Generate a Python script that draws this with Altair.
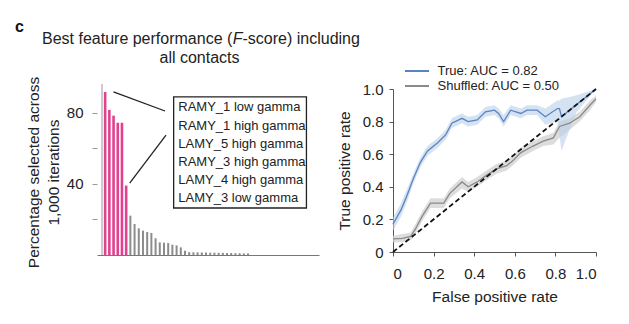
import altair as alt
import pandas as pd

# ---------------- data ----------------
# left panel: percentage selected across 1,000 iterations (sorted features)
top_vals = [91.6, 81.5, 78.3, 74.3, 74.3, 39.0]
rest_vals = [22.1, 17.4, 15.0, 13.7, 12.9, 12.4, 9.4, 7.1, 6.9, 6.7, 5.8, 5.4, 4.3, 2.4,
             1.6, 1.5, 1.5, 1.4, 1.4, 1.3, 1.3, 1.2, 1.2, 1.1, 1.1, 1.0, 1.0, 0.9, 0.9]
box_labels = ["RAMY_1 low gamma", "RAMY_1 high gamma", "LAMY_5 high gamma",
              "RAMY_3 high gamma", "LAMY_4 high gamma", "LAMY_3 low gamma"]
box_label_y = [83.0, 72.6, 62.3, 52.0, 42.1, 32.0]
box_x = [17.3, 48.9]
box_y = [26.4, 88.8]
conn_x = [2.98, 6.84]
conn_y = [91.6, 40.4]
conn_x2 = [15.25, 15.48]
conn_y2 = [80.9, 67.4]

# right panel: ROC curves
fpr_true = [0.0, 0.04, 0.07, 0.10, 0.135, 0.17, 0.22, 0.26, 0.29, 0.34, 0.37, 0.415, 0.455,
            0.50, 0.52, 0.545, 0.58, 0.63, 0.66, 0.71, 0.75, 0.81, 0.82, 0.83, 0.90, 1.0]
tpr_true = [0.17, 0.26, 0.35, 0.45, 0.55, 0.62, 0.67, 0.72, 0.79, 0.82, 0.80, 0.81, 0.86,
            0.87, 0.85, 0.80, 0.87, 0.85, 0.87, 0.87, 0.83, 0.88, 0.88, 0.83, 0.90, 1.0]
tpr_true_lo = [0.13, 0.22, 0.31, 0.42, 0.52, 0.59, 0.64, 0.69, 0.76, 0.79, 0.77, 0.78, 0.83,
               0.84, 0.82, 0.77, 0.84, 0.82, 0.84, 0.84, 0.78, 0.80, 0.72, 0.62, 0.85, 1.0]
tpr_true_hi = [0.21, 0.30, 0.39, 0.48, 0.58, 0.65, 0.70, 0.75, 0.82, 0.85, 0.83, 0.84, 0.89,
               0.90, 0.88, 0.84, 0.90, 0.88, 0.90, 0.90, 0.88, 0.93, 0.93, 0.94, 0.96, 1.0]

fpr_shuf = [0.0, 0.046, 0.087, 0.11, 0.144, 0.185, 0.25, 0.28, 0.34, 0.37, 0.415, 0.46,
            0.51, 0.56, 0.59, 0.63, 0.69, 0.74, 0.79, 0.82, 0.87, 0.92, 0.97, 1.0]
tpr_shuf = [0.08, 0.084, 0.096, 0.14, 0.22, 0.30, 0.30, 0.36, 0.43, 0.40, 0.43, 0.47,
            0.51, 0.53, 0.56, 0.61, 0.65, 0.68, 0.70, 0.77, 0.79, 0.83, 0.90, 0.94]
tpr_shuf_lo = [0.06, 0.06, 0.07, 0.11, 0.19, 0.27, 0.27, 0.33, 0.39, 0.37, 0.40, 0.44,
               0.48, 0.50, 0.53, 0.58, 0.62, 0.65, 0.66, 0.70, 0.75, 0.80, 0.87, 0.92]
tpr_shuf_hi = [0.10, 0.11, 0.12, 0.17, 0.25, 0.33, 0.33, 0.39, 0.46, 0.43, 0.46, 0.50,
               0.54, 0.56, 0.59, 0.64, 0.68, 0.71, 0.73, 0.80, 0.82, 0.86, 0.93, 0.96]

diag_x = [0.0, 1.0]
diag_y = [0.0, 1.0]
roc_ticks = [0, 0.2, 0.4, 0.6, 0.8, 1.0]
series_names = ["True: AUC = 0.82", "Shuffled: AUC = 0.50"]

PINK = "#e0428f"
GRAYBAR = "#8c8c8c"
BLUE = "#5a84bf"
BLUEBAND = "#b8cfea"
GRAYLINE = "#8a8a8a"
GRAYBAND = "#d2d2d2"
FONT = "Liberation Sans"

# ---------------- left panel ----------------
top_df = pd.DataFrame({"i": list(range(1, len(top_vals) + 1)), "v": top_vals})
rest_df = pd.DataFrame({"i": list(range(len(top_vals) + 1, len(top_vals) + len(rest_vals) + 1)),
                        "v": rest_vals})

xs = alt.Scale(domain=[0.25, 50.7], nice=False, zero=False)
ys = alt.Scale(domain=[0, 93.26], nice=False)

x_axis = alt.Axis(ticks=False, labels=False, title=None, grid=False,
                  domainColor="#777", domainWidth=1.2)
y_axis = alt.Axis(values=[20, 40, 60, 80], domain=False, grid=False, labelOverlap=False,
                  labelExpr="(datum.value == 40 || datum.value == 80) ? datum.label : ''",
                  tickColor="#999", tickSize=5, labelPadding=9, labelFontSize=15,
                  labelColor="#222", title=["Percentage selected across", "1,000 iterations"],
                  titleFontSize=15.5, titleFontWeight="normal", titleColor="#222",
                  titleLineHeight=20, titlePadding=5)

bars_top = alt.Chart(top_df).mark_bar(size=2.6, color=PINK).encode(
    x=alt.X("i:Q", scale=xs, axis=x_axis), y=alt.Y("v:Q", scale=ys, axis=y_axis))
bars_rest = alt.Chart(rest_df).mark_bar(size=2.0, color=GRAYBAR).encode(
    x=alt.X("i:Q", scale=xs, axis=x_axis), y=alt.Y("v:Q", scale=ys, axis=y_axis))

yline = alt.Chart(pd.DataFrame({"x": [0.25], "y0": [0.0], "y1": [96.0]})).mark_rule(
    color="#999", strokeWidth=1).encode(x=alt.X("x:Q", scale=xs, axis=x_axis),
                                        y=alt.Y("y0:Q", scale=ys, axis=y_axis), y2="y1:Q")

box = alt.Chart(pd.DataFrame({"x0": [box_x[0]], "x1": [box_x[1]], "y0": [box_y[0]], "y1": [box_y[1]]})).mark_rect(
    fillOpacity=0, stroke="#222", strokeWidth=1.3).encode(
    x=alt.X("x0:Q", scale=xs, axis=x_axis), x2="x1:Q", y=alt.Y("y0:Q", scale=ys, axis=y_axis), y2="y1:Q")

box_text = alt.Chart(pd.DataFrame({"t": box_labels, "y": box_label_y, "x": [18.4] * 6})).mark_text(
    align="left", baseline="middle", fontSize=13, font=FONT, color="#222").encode(
    x=alt.X("x:Q", scale=xs, axis=x_axis), y=alt.Y("y:Q", scale=ys, axis=y_axis), text="t:N")

conn = alt.Chart(pd.DataFrame({"x": conn_x, "y": conn_y, "x2": conn_x2, "y2": conn_y2})).mark_rule(
    color="#222", strokeWidth=1.3).encode(
    x=alt.X("x:Q", scale=xs, axis=x_axis), y=alt.Y("y:Q", scale=ys, axis=y_axis), x2="x2:Q", y2="y2:Q")

t1 = alt.Chart(pd.DataFrame({"t": ["Best feature performance ("]})).mark_text(
    align="left", baseline="alphabetic", fontSize=16, font=FONT, color="#222").encode(
    x=alt.value(-55), y=alt.value(-45), text="t:N")
t2 = alt.Chart(pd.DataFrame({"t": ["F"]})).mark_text(
    align="left", baseline="alphabetic", fontSize=16, font=FONT, fontStyle="italic", color="#222").encode(
    x=alt.value(135.7), y=alt.value(-45), text="t:N")
t3 = alt.Chart(pd.DataFrame({"t": ["-score) including"]})).mark_text(
    align="left", baseline="alphabetic", fontSize=16, font=FONT, color="#222").encode(
    x=alt.value(145.5), y=alt.value(-45), text="t:N")
t4 = alt.Chart(pd.DataFrame({"t": ["all contacts"]})).mark_text(
    align="center", baseline="alphabetic", fontSize=16, font=FONT, color="#222").encode(
    x=alt.value(102.5), y=alt.value(-26), text="t:N")
tc = alt.Chart(pd.DataFrame({"t": ["c"]})).mark_text(
    align="left", baseline="alphabetic", fontSize=16, font=FONT, fontWeight="bold", color="#111").encode(
    x=alt.value(-82), y=alt.value(-57), text="t:N")

left = alt.layer(bars_top, bars_rest, yline, box, box_text, conn, t1, t2, t3, t4, tc).properties(
    width=222, height=166)

# ---------------- right panel ----------------
true_df = pd.DataFrame({"x": fpr_true, "y": tpr_true, "lo": tpr_true_lo, "hi": tpr_true_hi})
shuf_df = pd.DataFrame({"x": fpr_shuf, "y": tpr_shuf, "lo": tpr_shuf_lo, "hi": tpr_shuf_hi})
diag_df = pd.DataFrame({"x": diag_x, "y": diag_y})

rx = alt.Scale(domain=[0, 1], nice=False)
ry = alt.Scale(domain=[0, 1], nice=False)
lab = "datum.value == 0 ? '0' : format(datum.value, '.1f')"
rx_axis = alt.Axis(values=roc_ticks, labelExpr=lab, grid=False, labelOverlap=False,
                   domainColor="#555", tickColor="#555", tickSize=4, labelPadding=10,
                   labelFontSize=15, labelColor="#222", title="False positive rate",
                   titleFontSize=15.5, titleFontWeight="normal", titleColor="#222", titlePadding=8)
ry_axis = alt.Axis(values=roc_ticks, labelExpr=lab, grid=False, labelOverlap=False, labelFlush=False,
                   domainColor="#555", tickColor="#555", tickSize=4, labelPadding=6,
                   labelFontSize=15, labelColor="#222", title="True positive rate",
                   titleFontSize=15.5, titleFontWeight="normal", titleColor="#222", titlePadding=10)

def X(f):
    return alt.X(f, scale=rx, axis=rx_axis)

def Y(f):
    return alt.Y(f, scale=ry, axis=ry_axis)

band_shuf = alt.Chart(shuf_df).mark_area(color=GRAYBAND, opacity=0.75).encode(
    x=X("x:Q"), y=Y("lo:Q"), y2="hi:Q")
band_true = alt.Chart(true_df).mark_area(color=BLUEBAND, opacity=0.6).encode(
    x=X("x:Q"), y=Y("lo:Q"), y2="hi:Q")
line_shuf = alt.Chart(shuf_df).mark_line(color=GRAYLINE, strokeWidth=1.3).encode(
    x=X("x:Q"), y=Y("y:Q"))
line_true = alt.Chart(true_df).mark_line(color=BLUE, strokeWidth=1.3).encode(
    x=X("x:Q"), y=Y("y:Q"))
diag = alt.Chart(diag_df).mark_line(color="#111", strokeWidth=1.8, strokeDash=[5, 3]).encode(
    x=X("x:Q"), y=Y("y:Q"))

leg_rule_true = alt.Chart(pd.DataFrame({"k": [0]})).mark_rule(color=BLUE, strokeWidth=2).encode(
    x=alt.value(12), x2=alt.value(36), y=alt.value(-18))
leg_rule_shuf = alt.Chart(pd.DataFrame({"k": [0]})).mark_rule(color=GRAYLINE, strokeWidth=2).encode(
    x=alt.value(12), x2=alt.value(36), y=alt.value(-3))
leg_txt_true = alt.Chart(pd.DataFrame({"t": [series_names[0]]})).mark_text(
    align="left", baseline="middle", fontSize=13, font=FONT, color="#222").encode(
    x=alt.value(44.5), y=alt.value(-18), text="t:N")
leg_txt_shuf = alt.Chart(pd.DataFrame({"t": [series_names[1]]})).mark_text(
    align="left", baseline="middle", fontSize=13, font=FONT, color="#222").encode(
    x=alt.value(44.5), y=alt.value(-3), text="t:N")

right = alt.layer(band_shuf, band_true, line_shuf, line_true, diag,
                  leg_rule_true, leg_rule_shuf, leg_txt_true, leg_txt_shuf).properties(
    width=203, height=163)

chart = alt.hconcat(left, right, spacing=74, bounds="flush").resolve_scale(
    x="independent", y="independent").properties(
    padding={"left": 15, "top": 19, "right": 5, "bottom": 5}
).configure(font=FONT).configure_view(stroke=None).configure_axis(
    labelFont=FONT, titleFont=FONT, labelOverlap=False)

chart.save("out.html", embed_options={"renderer": "svg", "actions": False})
